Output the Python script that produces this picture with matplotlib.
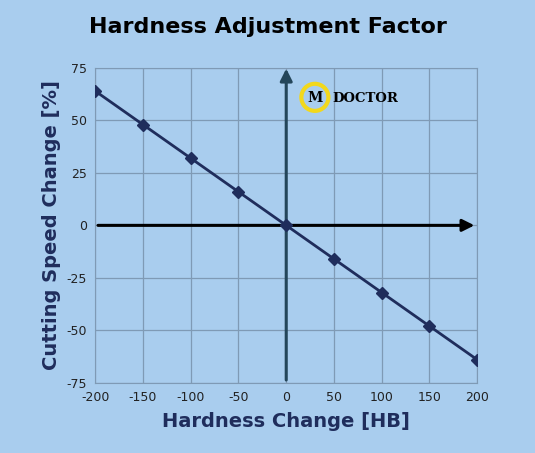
import matplotlib
matplotlib.use("Agg")
import matplotlib.pyplot as plt

plt.rcParams["axes.unicode_minus"] = False

hardness = [-200, -150, -100, -50, 0, 50, 100, 150, 200]
speed = [64, 48, 32, 16, 0, -16, -32, -48, -64]
xticks = [-200, -150, -100, -50, 0, 50, 100, 150, 200]
yticks = [-75, -50, -25, 0, 25, 50, 75]

BG = "#a9cdee"
NAVY = "#1f2d5c"

fig = plt.figure(figsize=(5.35, 4.53), dpi=100, facecolor=BG)
ax = fig.add_axes([0.178, 0.155, 0.714, 0.695])
ax.set_facecolor(BG)
ax.set_xlim(-200, 200)
ax.set_ylim(-75, 75)
ax.set_xticks(xticks)
ax.set_yticks(yticks)
ax.tick_params(length=0, labelsize=9, colors="#222222", pad=6)
ax.grid(True, color="#7f9ab5", lw=0.9)
for s in ax.spines.values():
    s.set_color("#7f9ab5")

ax.annotate("", xy=(200, 0), xytext=(-200, 0),
            arrowprops=dict(arrowstyle="-|>", color="black", lw=2.2, mutation_scale=18), zorder=3)
ax.annotate("", xy=(0, 76), xytext=(0, -75), annotation_clip=False,
            arrowprops=dict(arrowstyle="-|>", color="#24465a", lw=2.2, mutation_scale=18), zorder=3)

ax.plot(hardness, speed, "-D", color=NAVY, lw=2, ms=6, zorder=4)

ax.set_xlabel("Hardness Change [HB]", fontsize=14, fontweight="bold", color=NAVY, labelpad=6)
ax.set_ylabel("Cutting Speed Change [%]", fontsize=14, fontweight="bold", color=NAVY, labelpad=4)
fig.text(0.5, 0.94, "Hardness Adjustment Factor", ha="center", va="center",
         fontsize=16, fontweight="bold", color="black")

# logo
ax.scatter([30], [61], s=380, marker="o", facecolors="none", edgecolors="#f2d81c", lw=3, zorder=5)
ax.text(30, 60.5, "M", ha="center", va="center", fontsize=10, fontweight="bold", family="DejaVu Serif", zorder=6)
ax.text(48, 60.5, "DOCTOR", ha="left", va="center", fontsize=9.5, fontweight="bold", family="DejaVu Serif", zorder=6)

fig.savefig("out.png", facecolor=BG)
